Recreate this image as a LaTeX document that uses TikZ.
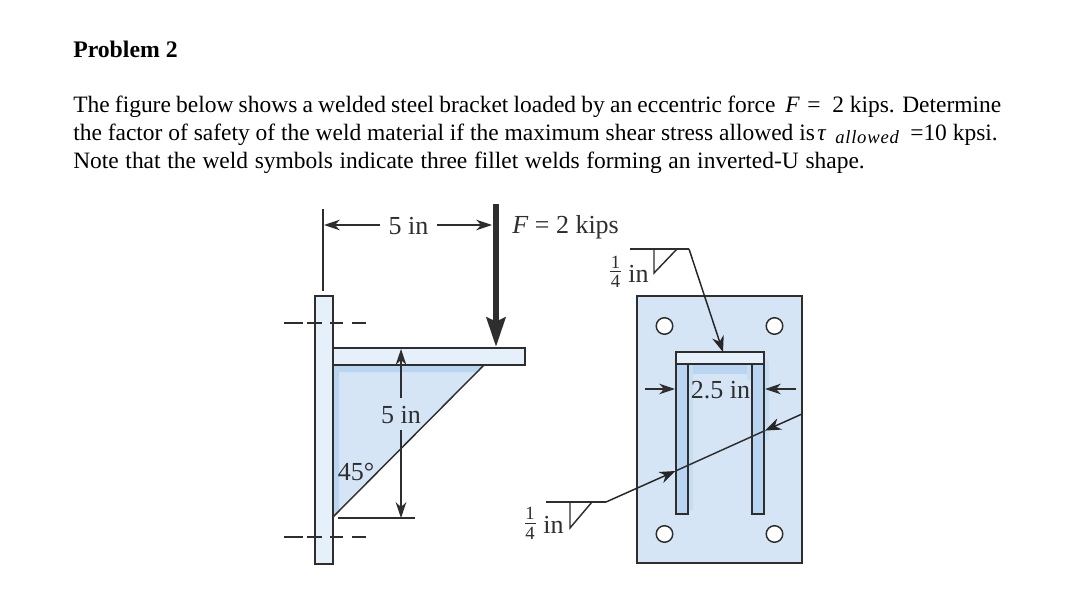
\documentclass[tikz,border=0pt]{standalone}
\usepackage{fontspec}
\setmainfont{Liberation Serif}
\newfontfamily\subfont[LetterSpace=4]{Liberation Serif}
\usetikzlibrary{arrows.meta}
\definecolor{ink}{HTML}{2E2E2E}
\definecolor{plateblue}{HTML}{D5E5F6}
\definecolor{flangeblue}{HTML}{E6F0FA}
\definecolor{weldblue}{HTML}{B9D5F1}
\definecolor{weldfaint}{HTML}{C6DDF4}
\tikzset{
  x=0.75pt,y=-0.75pt,
  para/.style={anchor=base west,inner sep=0pt,font=\fontsize{17.6pt}{20pt}\selectfont,text=black},
  lab/.style={inner sep=0pt,font=\fontsize{19.5pt}{22pt}\selectfont,text=ink},
  fracnum/.style={inner sep=0pt,font=\fontsize{14pt}{16pt}\selectfont,text=ink},
  part/.style={draw=ink,line width=1.3pt,line join=miter},
  thin line/.style={draw=ink,line width=0.9pt},
  centreline/.style={draw=ink,line width=0.9pt,dash pattern=on 14.25pt off 3pt on 11.25pt off 6pt on 9.75pt off 6.75pt on 10.5pt},
  dim/.style={draw=ink,line width=0.9pt,-{Stealth[length=12pt,width=8pt]}},
  leader/.style={draw=black!85,line width=1.1pt,-{Stealth[length=12pt,width=9pt]}},
  weldline/.style={draw=ink,line width=1.1pt},
  hole/.style={circle,draw=ink,fill=white,line width=1.1pt,minimum size=12.4pt,inner sep=0pt},
}
\begin{document}
\begin{tikzpicture}
\useasboundingbox (0,0) rectangle (1082,610);
\fill[white] (0,0) rectangle (1082,610);
% text
\node[para,font=\fontsize{17.8pt}{20pt}\selectfont\bfseries] (title) at (73,58) {Problem 2};
\node[para] (l1) at (73,112.5) {\spaceskip=3.9pt The figure below shows a welded steel bracket loaded by an eccentric force};
\node[para] (l1f) at (785,112.5) {\textit{F}};
\node[para] (l1e) at (807,112.5) {=};
\node[para] (l1k) at (832,112.5) {2 kips.};
\node[para] (l1d) at (902,112.5) {Determine};
\node[para] (l2) at (73,140.5) {the factor of safety of the weld material if the maximum shear stress allowed is};
\node[para] (l2t) at (817,140.5) {\textit{τ}};
\node[para] (l2s) at (835,143.5) {\fontsize{14pt}{15pt}\subfont\itshape allowed};
\node[para] (l2k) at (910,140.5) {=10 kpsi.};
\node[para] (l3) at (73,168) {\spaceskip=4.95pt Note that the weld symbols indicate three fillet welds forming an inverted-U shape.};

% ---- side view
\fill[plateblue] (333,365) -- (484,365) -- (333,517) -- cycle;
\fill[weldblue] (333,365) -- (484,365) -- (478,372) -- (339,372) -- (339,511) -- (333,517) -- cycle;
\draw[part,fill=flangeblue] (315,296) rectangle (333,564);
\draw[part,fill=flangeblue] (333,348) rectangle (525,365);
\draw[part,line width=1.1pt] (484,365) -- (333,517);
% centre lines
\coordinate (cTl) at (284,323); \coordinate (cTr) at (366,323);
\coordinate (cBl) at (284,537); \coordinate (cBr) at (366,537);
\draw[centreline] (cTl) -- (cTr);
\draw[centreline] (cBl) -- (cBr);
% horizontal dim
\coordinate (extTop) at (323,209); \coordinate (extBot) at (323,291);
\draw[thin line] (extTop) -- (extBot);
\node[lab] (dimA) at (408.5,226) {5 in};
\coordinate (dimAl) at (324,225); \coordinate (dimAr) at (492,225);
\draw[dim] (380,225) -- (dimAl);
\draw[dim] (437,225) -- (dimAr);
% force
\coordinate (fTop) at (496,204); \coordinate (fTip) at (496,347);
\draw[draw=ink,line width=4.6pt,-{Triangle[length=22pt,width=14pt,inset=3pt]}] (fTop) -- (fTip);
\node[lab,anchor=base west] (flab) at (512,233) {\textit{F} = 2 kips};
% vertical dim
\coordinate (dimBt) at (401,349); \coordinate (dimBb) at (401,518);
\node[lab] (dimB) at (401,415) {5 in};
\draw[dim] (401,398) -- (dimBt);
\draw[dim] (401,430) -- (dimBb);
\draw[thin line] (338,518) -- (415,518);
\node[lab] (ang) at (356,472) {45°};

% ---- front view
\draw[part,fill=plateblue] (637,296) rectangle (802,563);
% weld shading
\fill[weldblue] (688,364) rectangle (752,374);
\fill[weldfaint] (688,364) rectangle (693,510);
\fill[weldfaint] (752,364) rectangle (747,380);
\fill[weldfaint] (764,358) -- (769,362) -- (769,440) -- (764,440) -- cycle;
\draw[part,fill=weldblue] (676,364) rectangle (688,514);
\draw[part,fill=weldblue] (752,364) rectangle (764,514);
\draw[part,fill=flangeblue] (676,352) rectangle (764,364);
\node[hole] (h1) at (664.5,326) {};
\node[hole] (h2) at (774.5,326) {};
\node[hole] (h3) at (664.5,534) {};
\node[hole] (h4) at (774.5,534) {};
% width dim
\node[lab] (w) at (720.5,390) {2.5 in};
\coordinate (wL) at (675,389); \coordinate (wR) at (765,389);
\draw[dim] (645,389) -- (wL);
\draw[dim] (796,389) -- (wR);
% top weld symbol
\coordinate (wa) at (630,249); \coordinate (wb) at (689,249); \coordinate (wc) at (723,352);
\draw[weldline] (wa) -- (wb);
\draw[leader] (wb) -- (wc);
\draw[weldline] (654,249) -- (654,273) -- (677,249);
\node[fracnum] (t1) at (615.5,262) {1};
\draw[draw=ink,line width=0.7pt] (610,271.5) -- (621,271.5);
\node[fracnum] (t2) at (615.5,281) {4};
\node[lab] (tin) at (638.5,274) {in};
% bottom weld symbol
\coordinate (ba) at (546,502); \coordinate (bb) at (606,502);
\coordinate (bt) at (675.5,471); \coordinate (be) at (802,414); \coordinate (bt2) at (765,430.6);
\draw[weldline] (ba) -- (bb);
\draw[leader] (bb) -- (bt);
\draw[leader] (be) -- (bt2);
\draw[weldline] (bt) -- (bt2);
\draw[weldline] (570,502) -- (570,528) -- (592,502);
\node[fracnum] (b1) at (530,513) {1};
\draw[draw=ink,line width=0.7pt] (525,523) -- (536,523);
\node[fracnum] (b2) at (530,533) {4};
\node[lab] (bin) at (553.5,525) {in};
\end{tikzpicture}
\end{document}
